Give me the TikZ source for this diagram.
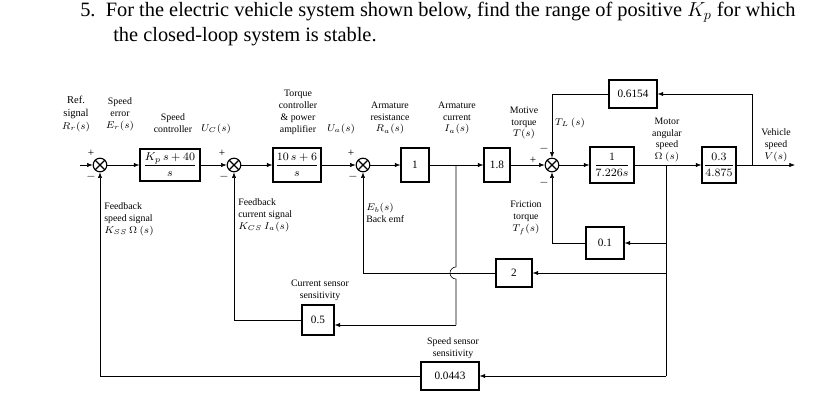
\documentclass[tikz,border=0pt]{standalone}
\usepackage{amsmath}
\usepackage{fontspec}
\setmainfont{Liberation Serif}
\usetikzlibrary{arrows.meta}
\begin{document}
\begin{tikzpicture}[x={(0.025cm,0)}, y={(0,-0.025cm)},
    blk/.style={draw, thick, inner sep=1pt, font=\fontsize{8}{9}\selectfont},
    sum/.style={draw, thick, circle, minimum size=0.34cm, inner sep=0pt,
      path picture={\draw (path picture bounding box.north west) -- (path picture bounding box.south east)
        (path picture bounding box.north east) -- (path picture bounding box.south west);}},
    lbl/.style={font=\fontsize{7}{8.5}\selectfont, align=center, inner sep=0pt},
    sgn/.style={font=\fontsize{8}{8}\selectfont, inner sep=0pt},
    sig/.style={-{Latex[length=4pt,width=3pt]}},
    line/.style={thin}]
\useasboundingbox (0,0) rectangle (829,400);
% title
\node[anchor=west, inner sep=0pt, font=\fontsize{14.5}{16}\selectfont] (t1) at (80,12)
  {5.\ \ For the electric vehicle system shown below, find the range of positive $K_p$ for which};
\node[anchor=west, inner sep=0pt, font=\fontsize{14.5}{16}\selectfont] (t2) at (113,37)
  {the closed-loop system is stable.};
% summing junctions
\node[sum] (s1) at (100,165) {};
\node[sum] (s2) at (234,165) {};
\node[sum] (s3) at (363,165) {};
\node[sum] (s4) at (552,165) {};
% forward blocks
\node[blk, minimum width=60*0.025cm, minimum height=32*0.025cm] (kp) at (170,165) {$\dfrac{K_p\,s+40}{s}$};
\node[blk, minimum width=48*0.025cm, minimum height=34*0.025cm] (tc) at (297,165) {$\dfrac{10\,s+6}{s}$};
\node[blk, minimum width=28*0.025cm, minimum height=34*0.025cm] (ra) at (415,165) {1};
\node[blk, minimum width=26*0.025cm, minimum height=34*0.025cm] (kt) at (497,165) {1.8};
\node[blk, minimum width=44*0.025cm, minimum height=36*0.025cm] (jm) at (612,165) {$\dfrac{1}{7.226s}$};
\node[blk, minimum width=34*0.025cm, minimum height=36*0.025cm] (vg) at (719,165) {$\dfrac{0.3}{4.875}$};
% feedback blocks
\node[blk, minimum width=48*0.025cm, minimum height=28*0.025cm] (tl) at (633,94) {0.6154};
\node[blk, minimum width=38*0.025cm, minimum height=32*0.025cm] (fr) at (605,243) {0.1};
\node[blk, minimum width=36*0.025cm, minimum height=28*0.025cm] (kb) at (514,273) {2};
\node[blk, minimum width=32*0.025cm, minimum height=30*0.025cm] (cs) at (318,320) {0.5};
\node[blk, minimum width=58*0.025cm, minimum height=28*0.025cm] (ss) at (450,376) {0.0443};
% branch points
\coordinate (in) at (80,165);
\coordinate (out) at (795,165);
\coordinate (bi) at (456,165);
\coordinate (bw) at (666,165);
\coordinate (bv) at (752,165);
% forward path
\draw[sig] (in) -- (s1);
\draw[sig] (s1) -- (kp);
\draw[sig] (kp) -- (s2);
\draw[sig] (s2) -- (tc);
\draw[sig] (tc) -- (s3);
\draw[sig] (s3) -- (ra);
\draw[sig] (ra) -- (kt);
\draw[sig] (kt) -- (s4);
\draw[sig] (s4) -- (jm);
\draw[sig] (jm) -- (vg);
\draw[sig] (vg) -- (out);
% load torque loop
\draw[sig] (bv) |- (tl);
\draw[sig] (tl) -| (s4);
% friction loop
\draw[sig] (bw |- fr) -- (fr);
\draw[sig] (fr) -| (s4);
% back emf loop
\draw[sig] (bw |- kb) -- (kb);
\draw[sig] (kb) -| (s3);
% current loop with hop
\draw[line] (bi) -- (456,267) arc[start angle=90, end angle=270, radius=0.15cm] -- (456,325);
\draw[sig] (456,325) -- (cs.east |- 456,325);
\draw[sig] (cs.west |- 0,320) -| (s2);
% speed loop
\draw[line] (bw) -- (666,376);
\draw[sig] (666,376) -- (ss);
\draw[sig] (ss) -| (s1);
% signs
\node[sgn] (p1) at (91,153) {+};
\node[sgn] (m1) at (91,177) {$-$};
\node[sgn] (p2) at (222,153) {+};
\node[sgn] (m2) at (224,177) {$-$};
\node[sgn] (p3) at (351,153) {+};
\node[sgn] (m3) at (353,177) {$-$};
\node[sgn] (p4) at (533,160) {+};
\node[sgn] (m4) at (544,149) {$-$};
\node[sgn] (m5) at (544,183) {$-$};
% labels
\node[lbl, font=\fontsize{7.5}{9}\selectfont] (l1) at (76,114) {Ref.\\signal\\$R_r(s)$};
\node[lbl] (l2) at (120,114) {Speed\\error\\$E_r(s)$};
\node[lbl] (l3) at (173,123) {Speed\\controller};
\node[lbl] (l4) at (216,129) {$U_C(s)$};
\node[lbl] (l5) at (298,112) {Torque\\controller\\\& power\\amplifier};
\node[lbl] (l6) at (341,129) {$U_a(s)$};
\node[lbl] (l7) at (390,118) {Armature\\resistance\\$R_a(s)$};
\node[lbl] (l8) at (457,118) {Armature\\current\\$I_a(s)$};
\node[lbl] (l9) at (524,123) {Motive\\torque\\$T(s)$};
\node[lbl] (l10) at (570,123) {$T_L\,(s)$};
\node[lbl] (l11) at (667,140) {Motor\\angular\\speed\\$\Omega\ (s)$};
\node[lbl] (l12) at (776,145) {Vehicle\\speed\\$V(s)$};
\node[lbl, align=left, anchor=west] (l13) at (104,219) {Feedback\\speed signal\\$K_{SS}\,\Omega\ (s)$};
\node[lbl, align=left, anchor=west] (l14) at (238,215) {Feedback\\current signal\\$K_{CS}\,I_a(s)$};
\node[lbl, align=left, anchor=west] (l15) at (366,213) {$E_b(s)$\\Back emf};
\node[lbl] (l16) at (526,218) {Friction\\torque\\$T_f(s)$};
\node[lbl] (l17) at (320,290) {Current sensor\\sensitivity};
\node[lbl] (l18) at (453,348) {Speed sensor\\sensitivity};
\end{tikzpicture}
\end{document}
